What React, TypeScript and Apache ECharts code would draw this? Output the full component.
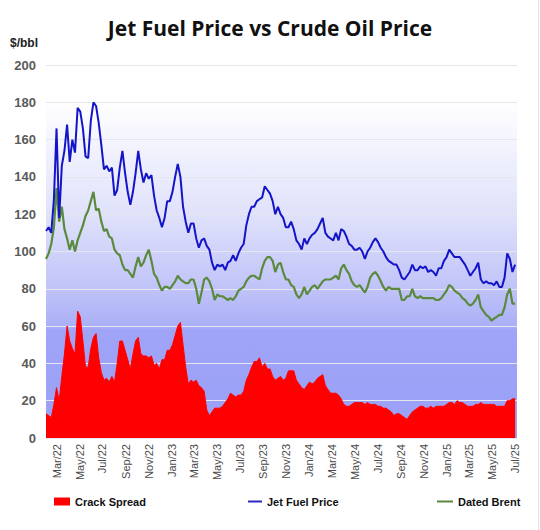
import React, { useEffect, useRef } from "react";
import * as echarts from "echarts";

// Weekly observations starting 2022-02-01 (US$/bbl)
const jetFuel = [
  111, 113, 110, 128, 166, 118, 146, 154, 168, 148, 160, 153, 177, 175, 166, 151, 150, 170, 180, 178,
  169, 157, 144, 146, 143, 145, 130, 133, 145, 154, 142, 132, 125, 132, 142, 154, 144, 137, 142, 139,
  141, 130, 122, 118, 113, 118, 127,
  127, 132, 140, 147, 140, 124, 116, 110, 115, 115, 107, 102, 106, 107, 103, 101, 94, 90, 93, 92,
  93, 90, 94, 95, 98, 95, 99, 102, 104, 114, 120, 124, 124, 127, 128, 129, 135, 133, 131, 127,
  120, 124, 120, 118, 113,
  113, 116, 112, 106, 104, 101, 107, 104, 107, 109, 110, 112, 115, 118, 110, 108, 107, 106, 110, 106,
  112, 111, 108, 104, 103, 101, 101, 102, 100, 96, 100, 102, 105, 107, 105, 102, 100, 97, 95, 94,
  93, 93, 90, 86, 85,
  87, 89, 93, 90, 90, 92, 91, 92, 89, 90, 89, 87, 91, 91, 95, 97, 101, 99, 97, 97,
  97, 95, 93, 90, 87, 89, 91, 94, 85, 83, 84, 83, 83, 82, 84, 81, 81, 86, 99, 96,
  89, 93,
];

const datedBrent = [
  96, 99, 104, 113, 134, 116, 124, 112, 107, 101, 106, 100, 106, 110, 114, 119, 122, 127, 132, 122,
  123, 116, 111, 112, 108, 107, 101, 99, 98, 93, 90, 90, 88, 86, 92, 97, 92, 94, 98, 101,
  95, 88, 86, 82, 79, 81, 81,
  80, 82, 84, 87, 85, 84, 83, 83, 85, 85, 80, 72, 78, 85, 86, 84, 80, 74, 77, 76,
  76, 75, 74, 75, 74, 76, 79, 80, 81, 84, 86, 87, 87, 86, 85, 91, 95, 97, 97, 95,
  89, 93, 94, 89, 85,
  85, 82, 81, 77, 75, 77, 81, 77, 79, 81, 82, 80, 82, 84, 85, 85, 85, 86, 87, 85,
  91, 93, 90, 88, 84, 82, 81, 82, 80, 78, 81, 86, 88, 89, 87, 84, 81, 79, 81, 80,
  80, 80, 80, 74, 74,
  76, 76, 80, 76, 75, 76, 75, 75, 75, 75, 75, 74, 74, 75, 77, 79, 82, 81, 79, 78,
  77, 75, 74, 72, 71, 72, 74, 77, 70, 68, 66, 65, 63, 64, 65, 66, 66, 70, 77, 80,
  72, 72,
];

const crackSpread = [
  13, 12, 11, 18, 27, 20, 33, 45, 60, 52, 48, 45, 68, 65, 52, 38, 38, 48, 54, 56,
  43, 35, 31, 32, 30, 33, 30, 40, 52, 52, 47, 42, 37, 45, 52, 54, 45, 44, 44, 43,
  44, 39, 40, 37, 42, 42, 47,
  47, 50, 55, 60, 62, 50, 38, 29, 31, 30, 31, 28, 27, 25, 15, 12, 14, 16, 16, 16,
  17, 19, 21, 24, 23, 22, 23, 23, 25, 31, 34, 38, 41, 41, 43, 38, 40, 37, 37, 33,
  31, 32, 33, 31, 32,
  36, 36, 36, 31, 29, 27, 26, 28, 30, 29, 30, 32, 33, 34, 28, 26, 24, 24, 24, 23,
  21, 18, 17, 17, 18, 19, 19, 19, 19, 18, 19, 18, 18, 18, 17, 17, 16, 16, 15, 14,
  12, 13, 13, 12, 11,
  10, 12, 14, 15, 16, 17, 17, 16, 16, 17, 16, 17, 17, 17, 17, 18, 19, 19, 18, 20,
  19, 19, 18, 17, 17, 17, 18, 18, 19, 18, 18, 18, 18, 18, 17, 17, 17, 17, 20, 20,
  21, 21,
];

const tickDates = [
  "2022-03-01", "2022-05-01", "2022-07-01", "2022-09-01", "2022-11-01",
  "2023-01-01", "2023-03-01", "2023-05-01", "2023-07-01", "2023-09-01", "2023-11-01",
  "2024-01-01", "2024-03-01", "2024-05-01", "2024-07-01", "2024-09-01", "2024-11-01",
  "2025-01-01", "2025-03-01", "2025-05-01", "2025-07-01",
];
const tickLabels = [
  "Mar/22", "May/22", "Jul/22", "Sep/22", "Nov/22",
  "Jan/23", "Mar/23", "May/23", "Jul/23", "Sep/23", "Nov/23",
  "Jan/24", "Mar/24", "May/24", "Jul/24", "Sep/24", "Nov/24",
  "Jan/25", "Mar/25", "May/25", "Jul/25",
];

const START = Date.UTC(2022, 1, 1);
const END = Date.UTC(2025, 6, 6);
const DAY = 86400000;

export default function App() {
  const ref = useRef<HTMLDivElement>(null);
  useEffect(() => {
    if (!ref.current) return;
    const chart = echarts.init(ref.current, null, { renderer: "svg" });
    const weekTs = jetFuel.map((_, i) => START + i * 7 * DAY);
    const tickTs = tickDates.map((d) => Date.parse(d + "T00:00:00Z"));
    const labelFor = (v: number) => {
      const idx = tickTs.findIndex((t) => Math.abs(t - v) < DAY);
      return idx >= 0 ? tickLabels[idx] : "";
    };
    const pairs = (arr: number[]) => arr.map((v, i) => [weekTs[i], v]);

    const legendText = {
      fontFamily: "Liberation Sans, Arial, sans-serif",
      fontWeight: "bold" as const,
      fontSize: 11,
      color: "#111",
    };

    chart.setOption({
      animation: false,
      backgroundColor: "#ffffff",
      title: [
        {
          text: "Jet Fuel Price vs Crude Oil Price",
          left: "center",
          top: 12,
          textStyle: {
            fontFamily: "Open Sans, sans-serif",
            fontWeight: "bold",
            fontSize: 21,
            color: "#111",
          },
        },
        {
          text: "$/bbl",
          left: 5,
          top: 32,
          textStyle: {
            fontFamily: "Liberation Sans, Arial, sans-serif",
            fontWeight: "bold",
            fontSize: 12,
            color: "#222",
          },
        },
      ],
      legend: [
        {
          left: 54,
          top: 496,
          padding: 0,
          itemWidth: 16,
          itemHeight: 8,
          data: [{ name: "Crack Spread", icon: "rect" }],
          textStyle: legendText,
        },
        {
          left: 248,
          top: 496,
          padding: 0,
          itemWidth: 14,
          itemHeight: 2,
          data: [{ name: "Jet Fuel Price", icon: "rect" }],
          textStyle: legendText,
        },
        {
          left: 437,
          top: 496,
          padding: 0,
          itemWidth: 16,
          itemHeight: 2,
          data: [{ name: "Dated Brent", icon: "rect" }],
          textStyle: legendText,
        },
      ],
      grid: {
        left: 46,
        right: 23,
        top: 65,
        bottom: 92,
        containLabel: false,
        show: true,
        borderWidth: 0,
        backgroundColor: new echarts.graphic.LinearGradient(0, 0, 0, 1, [
          { offset: 0, color: "#ffffff" },
          { offset: 0.09, color: "#ffffff" },
          { offset: 0.4, color: "#e0e2fb" },
          { offset: 0.6, color: "#c0c3f8" },
          { offset: 0.7, color: "#aab0f7" },
          { offset: 0.71, color: "#9fa4f7" },
          { offset: 1, color: "#9aa0f6" },
        ]),
      },
      xAxis: {
        type: "value",
        min: START,
        max: END,
        axisLine: { show: false },
        axisTick: { show: false },
        splitLine: { show: false },
        axisLabel: {
          customValues: tickTs,
          rotate: 90,
          margin: 6,
          fontFamily: "Liberation Sans, Arial, sans-serif",
          fontSize: 11,
          color: "#4a4a4a",
          formatter: (v: number) => labelFor(v),
        },
      },
      yAxis: {
        type: "value",
        min: 0,
        max: 200,
        interval: 20,
        axisLine: { show: false },
        axisTick: { show: false },
        splitLine: { show: true, lineStyle: { color: "#e6e6ee", width: 1 } },
        axisLabel: {
          margin: 10,
          fontFamily: "Liberation Sans, Arial, sans-serif",
          fontWeight: "bold",
          fontSize: 13,
          color: "#5a5a5a",
        },
      },
      series: [
        {
          name: "Crack Spread",
          type: "line",
          data: pairs(crackSpread),
          symbol: "none",
          lineStyle: { color: "#ff0000", width: 1 },
          itemStyle: { color: "#ff0000" },
          areaStyle: { color: "#ff0000", opacity: 1 },
          z: 2,
        },
        {
          name: "Jet Fuel Price",
          type: "line",
          data: pairs(jetFuel),
          symbol: "none",
          lineStyle: { color: "#1414c8", width: 2 },
          itemStyle: { color: "#2b2bc0" },
          z: 4,
        },
        {
          name: "Dated Brent",
          type: "line",
          data: pairs(datedBrent),
          symbol: "none",
          lineStyle: { color: "#5b8a3e", width: 2.2 },
          itemStyle: { color: "#5b8a3e" },
          z: 3,
        },
      ],
      graphic: [
        {
          type: "line",
          shape: { x1: 538.5, y1: 0, x2: 538.5, y2: 530 },
          style: { stroke: "#e2e2e2", lineWidth: 1 },
        },
      ],
    });
    return () => chart.dispose();
  }, []);
  return (
    <div
      ref={ref}
      style={{ position: "absolute", left: 0, top: 0, width: 540, height: 530 }}
    />
  );
}
